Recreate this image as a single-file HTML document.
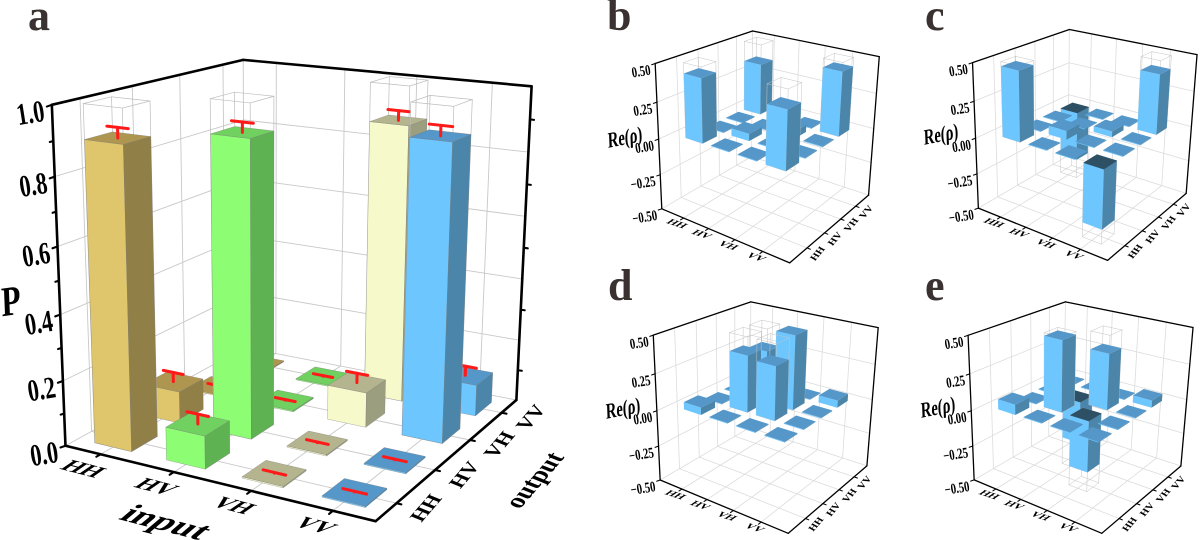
<!DOCTYPE html>
<html lang="en">
<head>
<meta charset="utf-8">
<title>Process tomography 3D bar charts</title>
<style>
html,body{margin:0;padding:0;background:#fff;}
#stage{display:block;width:1200px;height:540px;font-family:"Liberation Serif",serif;}
.letter{font-family:"Liberation Serif",serif;font-weight:bold;font-size:44px;fill:#3a3230;}
</style>
</head>
<body>
<svg id="stage" xmlns="http://www.w3.org/2000/svg" width="1200" height="540" viewBox="0 0 1200 540">
<rect width="1200" height="540" fill="#ffffff"/>
<text class="letter" x="28" y="30">a</text>
<text class="letter" x="607" y="30">b</text>
<text class="letter" x="925" y="30">c</text>
<text class="letter" x="608" y="300">d</text>
<text class="letter" x="925" y="300">e</text>
</svg>
<script>
// ---- data ----
const inputCategories = ['HH', 'HV', 'VH', 'VV'];
const outputCategories = ['HH', 'HV', 'VH', 'VV'];
const probabilityTicks = [0, 0.2, 0.4, 0.6, 0.8, 1.0];
const probabilityTickLabels = ['0.0', '0.2', '0.4', '0.6', '0.8', '1.0'];
const rhoTicks = [-0.5, -0.25, 0, 0.25, 0.5];
const rhoTickLabels = ['\u22120.50', '\u22120.25', '0.00', '0.25', '0.50'];

// rows = input, columns = output
const panelAValues = [
  [0.90, 0.10, 0.004, 0.004],
  [0.10, 0.90, 0.004, 0.004],
  [0.004, 0.004, 0.11, 0.88],
  [0.004, 0.004, 0.90, 0.10]
];
const panelAIdeal = [
  [1, 0, 0, 0],
  [0, 1, 0, 0],
  [0, 0, 0, 1],
  [0, 0, 1, 0]
];
const panelAErrors = [
  [0.03, 0.03, 0.002, 0.002],
  [0.03, 0.03, 0.002, 0.002],
  [0.002, 0.002, 0.03, 0.03],
  [0.002, 0.002, 0.03, 0.03]
];
const panelBValues = [
  [0.43, 0.005, 0.005, 0.36],
  [0.005, 0.05, 0.005, 0.005],
  [0.005, 0.005, 0.05, 0.005],
  [0.38, 0.005, 0.005, 0.44]
];
const panelBIdeal = [
  [0.5, 0, 0, 0.5],
  [0, 0, 0, 0],
  [0, 0, 0, 0],
  [0.5, 0, 0, 0.5]
];
const panelCValues = [
  [0.47, 0.005, 0.005, -0.36],
  [0.005, 0.06, 0.005, 0.005],
  [0.005, 0.005, 0.04, 0.005],
  [-0.40, 0.005, 0.005, 0.41]
];
const panelCIdeal = [
  [0.5, 0, 0, -0.5],
  [0, 0, 0, 0],
  [0, 0, 0, 0],
  [-0.5, 0, 0, 0.5]
];
const panelDValues = [
  [0.05, 0.005, 0.005, 0.005],
  [0.005, 0.38, 0.35, 0.005],
  [0.005, 0.36, 0.50, 0.005],
  [0.005, 0.005, 0.005, 0.05]
];
const panelDIdeal = [
  [0, 0, 0, 0],
  [0, 0.5, 0.5, 0],
  [0, 0.5, 0.5, 0],
  [0, 0, 0, 0]
];
const panelEValues = [
  [0.07, 0.005, 0.005, 0.005],
  [0.005, 0.48, -0.30, 0.005],
  [0.005, -0.36, 0.38, 0.005],
  [0.005, 0.005, 0.005, 0.05]
];
const panelEIdeal = [
  [0, 0, 0, 0],
  [0, 0.5, -0.5, 0],
  [0, -0.5, 0.5, 0],
  [0, 0, 0, 0]
];

// ---- colour sets ----
const SVGNS = 'http://www.w3.org/2000/svg';
const stage = document.getElementById('stage');
const TAN = {l:'#dfc56b', r:'#907f47', t:'#af9650'};
const GRN = {l:'#8dfd74', r:'#5eb252', t:'#70d060'};
const YEL = {l:'#f6facb', r:'#9c9e80', t:'#b4b48e'};
const BLU = {l:'#6ec6ff', r:'#4b86aa', t:'#5597c9'};
const DARK_TOP = '#2e5065';

function svgEl(tag, attrs, parent) {
  const n = document.createElementNS(SVGNS, tag);
  for (const k in attrs) n.setAttribute(k, attrs[k]);
  parent.appendChild(n);
  return n;
}

// least-squares pinhole projection from the seven visible cube corners
function makeProjection(f) {
  const pts = [[0,0,1,f.LT],[0,0,0,f.LB],[1,0,0,f.F],[1,1,0,f.RB],[1,1,1,f.RT],[0,1,1,f.BT],[0,1,0,f.BB]];
  const N = 11;
  const A = Array.from({length:N}, () => new Array(N + 1).fill(0));
  function addRow(row, rhs) {
    for (let i = 0; i < N; i++) {
      for (let j = 0; j < N; j++) A[i][j] += row[i] * row[j];
      A[i][N] += row[i] * rhs;
    }
  }
  pts.forEach(p => {
    const X = p[0], Y = p[1], Z = p[2], x = p[3][0] / 1000, y = p[3][1] / 1000;
    addRow([X,Y,Z,1,0,0,0,0,-x*X,-x*Y,-x*Z], x);
    addRow([0,0,0,0,X,Y,Z,1,-y*X,-y*Y,-y*Z], y);
  });
  for (let i = 0; i < N; i++) A[i][i] += 1e-10;
  for (let c = 0; c < N; c++) {
    let piv = c;
    for (let r = c + 1; r < N; r++) if (Math.abs(A[r][c]) > Math.abs(A[piv][c])) piv = r;
    const t = A[c]; A[c] = A[piv]; A[piv] = t;
    for (let r = 0; r < N; r++) {
      if (r === c) continue;
      const m = A[r][c] / A[c][c];
      for (let k = c; k <= N; k++) A[r][k] -= m * A[c][k];
    }
  }
  const s = A.map((row, i) => row[N] / row[i]);
  return function (u, v, w) {
    const d = s[8]*u + s[9]*v + s[10]*w + 1;
    return [1000*(s[0]*u + s[1]*v + s[2]*w + s[3]) / d, 1000*(s[4]*u + s[5]*v + s[6]*w + s[7]) / d];
  };
}

function ptsStr(list) {
  return list.map(p => p[0].toFixed(2) + ',' + p[1].toFixed(2)).join(' ');
}

function drawPanel(cfg) {
  const g = svgEl('g', {}, stage);
  
  
  const P = makeProjection(cfg.frame);
  const zScale = val => (val - cfg.zMin) / (cfg.zMax - cfg.zMin);
  const catScale = i => cfg.catMargin + i * (1 - 2 * cfg.catMargin) / 3;
  const line = (a, b, color, width, parent) => svgEl('line', {
    x1:a[0].toFixed(2), y1:a[1].toFixed(2), x2:b[0].toFixed(2), y2:b[1].toFixed(2),
    stroke:color, 'stroke-width':width, 'stroke-linecap':'round'
  }, parent);

  // grid
  const grid = svgEl('g', {}, g);
  
  
  const GC = cfg.gridColor, GW = cfg.gridWidth;
  line(P(0,0,0), P(0,1,0), GC, GW, grid);
  line(P(0,1,0), P(1,1,0), GC, GW, grid);
  line(P(0,1,0), P(0,1,1), GC, GW, grid);
  for (let i = 0; i < 4; i++) {
    const t = catScale(i);
    line(P(t,0,0), P(t,1,0), GC, GW, grid);
    line(P(0,t,0), P(1,t,0), GC, GW, grid);
    line(P(t,1,0), P(t,1,1), GC, GW, grid);
    line(P(0,t,0), P(0,t,1), GC, GW, grid);
  }
  cfg.zTicks.forEach(val => {
    const w = zScale(val);
    if (w <= 0 || w >= 1) return;
    line(P(0,0,w), P(0,1,w), GC, GW, grid);
    line(P(0,1,w), P(1,1,w), GC, GW, grid);
  });

  // frame
  const fr = svgEl('g', {}, g);
  
  
  const FW = cfg.frameWidth;
  [[P(0,0,0),P(0,0,1)],[P(0,0,1),P(0,1,1)],[P(0,1,1),P(1,1,1)],[P(1,1,1),P(1,1,0)],[P(0,0,0),P(1,0,0)],[P(1,0,0),P(1,1,0)]].forEach(s => {
    line(s[0], s[1], '#000', FW, fr);
  });
  // category ticks
  for (let i = 0; i < 4; i++) {
    const t = catScale(i);
    const a = P(t,0,0), b = P(t,1,0), c = P(1,t,0), d = P(0,t,0);
    const ln = cfg.tickLen;
    const na = Math.hypot(a[0]-b[0], a[1]-b[1]), nc = Math.hypot(c[0]-d[0], c[1]-d[1]);
    line(a, [a[0]+(a[0]-b[0])/na*ln, a[1]+(a[1]-b[1])/na*ln], '#000', FW*0.8, fr);
    line(c, [c[0]+(c[0]-d[0])/nc*ln, c[1]+(c[1]-d[1])/nc*ln], '#000', FW*0.8, fr);
  }
  // value ticks
  cfg.zTicks.forEach((val, k) => {
    const pt = P(0,0,zScale(val));
    line(pt, [pt[0]-cfg.tickLen, pt[1]+cfg.tickLen*0.35], '#000', FW*0.8, fr);
  });
  if (cfg.minorTicks) {
    cfg.minorTicks.forEach(val => {
      const pl = P(0,0,zScale(val));
      line(pl, [pl[0]-cfg.tickLen*0.7, pl[1]+cfg.tickLen*0.2], '#000', FW*0.8, fr);
      const pr = P(1,1,zScale(val));
      line(pr, [pr[0]+cfg.tickLen*0.8, pr[1]+cfg.tickLen*0.1], '#000', FW*0.8, fr);
    });
  }

  // bars: back to front
  const base = zScale(cfg.zBase);
  const half = cfg.barWidth / 2;
  const cells = [];
  cfg.values.forEach((row, i) => row.forEach((val, j) => cells.push([i, j, val])));
  cells.sort((a, b) => (b[1] - b[0]) - (a[1] - a[0]));
  cells.forEach(cell => {
    const i = cell[0], j = cell[1], val = cell[2];
    const col = cfg.colors[i];
    const u0 = catScale(i) - half, u1 = catScale(i) + half;
    const v0 = catScale(j) - half, v1 = catScale(j) + half;
    const ideal = cfg.ideals[i][j];
    const bar = svgEl('g', {}, g);
    
    

    if (ideal !== 0) {
      const wire = svgEl('g', {}, bar);
      
      
      const w0 = base, w1 = zScale(ideal);
      const corners = [[u0,v0],[u1,v0],[u1,v1],[u0,v1]];
      corners.forEach((c, n) => {
        const nx = corners[(n + 1) % 4];
        line(P(c[0],c[1],w0), P(nx[0],nx[1],w0), cfg.wireColor, cfg.wireWidth, wire);
        line(P(c[0],c[1],w1), P(nx[0],nx[1],w1), cfg.wireColor, cfg.wireWidth, wire);
        line(P(c[0],c[1],w0), P(c[0],c[1],w1), cfg.wireColor, cfg.wireWidth, wire);
      });
    }

    const lo = zScale(Math.min(cfg.zBase, val)), hi = zScale(Math.max(cfg.zBase, val));
    const edge = cfg.faceStroke;
    const left = svgEl('polygon', {points:ptsStr([P(u0,v0,lo),P(u1,v0,lo),P(u1,v0,hi),P(u0,v0,hi)]), fill:col.l, stroke:edge, 'stroke-width':0.5}, bar);
    
    
    const right = svgEl('polygon', {points:ptsStr([P(u1,v0,lo),P(u1,v1,lo),P(u1,v1,hi),P(u1,v0,hi)]), fill:col.r, stroke:edge, 'stroke-width':0.5}, bar);
    
    
    const top = svgEl('polygon', {points:ptsStr([P(u0,v0,hi),P(u1,v0,hi),P(u1,v1,hi),P(u0,v1,hi)]), fill:val < -0.02 ? DARK_TOP : col.t, stroke:val < -0.02 ? DARK_TOP : edge, 'stroke-width':0.5}, bar);
    
    

    if (cfg.errors) {
      const er = cfg.errors[i][j];
      const cu = catScale(i), cv = catScale(j), capW = zScale(val + er);
      const eg = svgEl('g', {}, bar);
      
      
      line(P(cu,cv,hi), P(cu,cv,capW), '#ff1a1a', 3, eg);
      line(P(cu-0.036,cv,capW), P(cu+0.036,cv,capW), '#ff1a1a', 3, eg);
    }
  });

  // text
  const tf = 'font-family:\'Liberation Serif\',serif;font-weight:bold;';
  cfg.zTicks.forEach((val, k) => {
    const pt = P(0,0,zScale(val));
    const tx = pt[0] + cfg.zLabelDX, ty = pt[1] + cfg.zLabelDY;
    const t = svgEl('text', {
      transform:'translate(' + tx.toFixed(1) + ' ' + ty.toFixed(1) + ') rotate(-9) scale(' + cfg.zLabelSX + ' 1)',
      'text-anchor':'end', style:tf + 'font-size:' + cfg.zLabelSize + 'px;', fill:'#000'
    }, g);
    
    
    t.textContent = cfg.zLabels[k];
  });
  inputCategories.forEach((name, i) => {
    const pt = P(catScale(i),0,0);
    const m = cfg.xMatrix;
    const t = svgEl('text', {
      transform:'matrix(' + m.join(' ') + ' ' + (pt[0]+cfg.xOff[0]).toFixed(1) + ' ' + (pt[1]+cfg.xOff[1]).toFixed(1) + ')',
      'text-anchor':'middle', 'dominant-baseline':'central', style:tf + 'font-size:' + cfg.catSize + 'px;', fill:'#000'
    }, g);
    
    
    t.textContent = name;
  });
  outputCategories.forEach((name, j) => {
    const pt = P(1,catScale(j),0);
    const m = cfg.yMatrix;
    const t = svgEl('text', {
      transform:'matrix(' + m.join(' ') + ' ' + (pt[0]+cfg.yOff[0]).toFixed(1) + ' ' + (pt[1]+cfg.yOff[1]).toFixed(1) + ')',
      'text-anchor':'middle', 'dominant-baseline':'central', style:tf + 'font-size:' + cfg.catSize + 'px;', fill:'#000'
    }, g);
    
    
    t.textContent = name;
  });
  cfg.titles.forEach(tt => {
    const t = svgEl('text', {
      transform:'matrix(' + tt.m.join(' ') + ' ' + tt.x + ' ' + tt.y + ')',
      'text-anchor':'middle', 'dominant-baseline':'central', style:tf + 'font-size:' + tt.size + 'px;', fill:'#000'
    }, g);
    
    
    t.textContent = tt.text;
  });
}

const blueRows = [BLU, BLU, BLU, BLU];
const smallXMatrix = [1, 0.33, -0.8, 0.55];
const smallYMatrix = [0.62, -0.72, 0.75, 0.42];
const smallCommon = {
  zMin:-0.5, zMax:0.5, zBase:0, zTicks:rhoTicks, zLabels:rhoTickLabels, catMargin:0.19,
  colors:blueRows, barWidth:0.14, gridColor:'#dcdcdc', gridWidth:0.8,
  wireColor:'#c4c4c4', wireWidth:0.5, frameWidth:1.3, tickLen:3.5,
  zLabelDX:-4, zLabelDY:11, zLabelSize:15, zLabelSX:0.72, catSize:11,
  xMatrix:smallXMatrix, yMatrix:smallYMatrix, xOff:[-7,6], yOff:[11,6], faceStroke:'none'
};
function rhoTitle(x, y) {
  return {name:'z-axis-title', text:'Re(\u03c1)', x:x, y:y, size:22, m:[0.66, -0.13, 0.04, 1]};
}

drawPanel({
  id:'a', frame:{LT:[52,105],LB:[65,446],F:[376,520.7],RB:[516,400.7],RT:[531.7,86],BT:[243,60],BB:[245,347]},
  zMin:0, zMax:1, zBase:0, zTicks:probabilityTicks, zLabels:probabilityTickLabels, minorTicks:[0.1,0.3,0.5,0.7,0.9], catMargin:0.125,
  values:panelAValues, ideals:panelAIdeal, errors:panelAErrors,
  colors:[TAN, GRN, YEL, BLU], barWidth:0.13, gridColor:'#c8c8c8', gridWidth:0.9,
  wireColor:'#bdbdbd', wireWidth:0.7, frameWidth:2.6, tickLen:5,
  zLabelDX:-6, zLabelDY:16, zLabelSize:31, zLabelSX:0.72, catSize:22,
  xMatrix:[1.05, 0.27, -0.9, 0.62], yMatrix:[0.62, -0.72, 0.85, 0.35], xOff:[-18,15], yOff:[30,5], faceStroke:'rgba(120,120,120,0.6)',
  titles:[
    {name:'z-axis-title', text:'P', x:11, y:302, size:42, m:[0.75, -0.11, 0.04, 1]},
    {name:'x-axis-title', text:'input', x:167, y:522, size:31, m:[1.15, 0.3, -0.85, 0.72]},
    {name:'y-axis-title', text:'output', x:534, y:480, size:29, m:[0.55, -0.64, 0.85, 0.35]}
  ]
});
drawPanel(Object.assign({}, smallCommon, {
  id:'b', frame:{LT:[655,63.3],LB:[661.7,210],F:[790,261.7],RB:[868.3,196.7],RT:[879.3,56],BT:[752.7,31.7],BB:[751.7,155]},
  values:panelBValues, ideals:panelBIdeal, titles:[rhoTitle(625,138)]
}));
drawPanel(Object.assign({}, smallCommon, {
  id:'c', frame:{LT:[972.7,61.7],LB:[979,209.3],F:[1106.7,260],RB:[1186.7,193.3],RT:[1197.3,55],BT:[1069,30],BB:[1067.7,155]},
  values:panelCValues, ideals:panelCIdeal, titles:[rhoTitle(941,135)]
}));
drawPanel(Object.assign({}, smallCommon, {
  id:'d', frame:{LT:[653.3,335],LB:[660,480.7],F:[788.3,532.7],RB:[866.7,466.7],RT:[878.3,327.3],BT:[750.7,302.3],BB:[750,426.7]},
  values:panelDValues, ideals:panelDIdeal, titles:[rhoTitle(623,409)]
}));
drawPanel(Object.assign({}, smallCommon, {
  id:'e', frame:{LT:[968.3,335],LB:[974,480.7],F:[1101.7,532.7],RB:[1180.7,466.7],RT:[1193.3,327.3],BT:[1065,302.3],BB:[1064,426.7]},
  values:panelEValues, ideals:panelEIdeal, titles:[rhoTitle(938,408)]
}));
</script>
</body>
</html>
